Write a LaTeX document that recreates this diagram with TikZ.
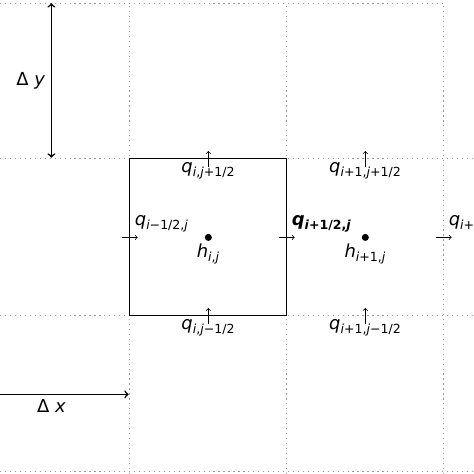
\documentclass[tikz,border=0pt]{standalone}
\usepackage{fontspec}
\setmainfont{DejaVu Sans}
\usetikzlibrary{calc}

\tikzset{
    gridline/.style={gray!80, line width=0.7pt, dash pattern=on 0.9pt off 2.7pt},
    flux/.style={->, line width=0.5pt},
    lab/.style={font=\fontsize{13}{15}\selectfont, inner sep=2pt}
}

\begin{document}
\begin{tikzpicture}
        \useasboundingbox (-3.31,-4.03) rectangle (8.77,8.05);

        % Grid of cells (dotted)
        \foreach \y in {0,4} {
            \draw[gridline] (-3.31,\y) -- (8.77,\y);
        }
        \draw[gridline] (-3.31,-3.97) -- (8.77,-3.97);
        \draw[gridline] (-3.31,7.97) -- (8,7.97);
        \foreach \x in {0,4,8} {
            \draw[gridline] (\x,-4.03) -- (\x,7.97);
        }

        % Control volume (i,j)
        \draw[line width=0.8pt] (0,0) rectangle (4,4);

        % Cell spacing
        \coordinate (dybot) at (-2,4.03);
        \coordinate (dytop) at (-2,7.97);
        \draw[<->, line width=1.1pt] (dybot) -- (dytop)
            node[midway, left, lab, inner sep=4pt] (dy) {Δ \textit{y}};
        \coordinate (dxl) at (-3.31,-2);
        \coordinate (dxr) at (-0.03,-2);
        \draw[->, line width=1.1pt] (dxl) -- (dxr);
        \node[below, lab] (dx) at (-2,-2.05) {Δ \textit{x}};

        % Cell centres
        \fill (2,2) circle (0.09) coordinate (cij);
        \fill (6,2) circle (0.09) coordinate (cipj);
        \node[below, lab] (hij) at (2,1.9) {\textit{h}\textsubscript{\textit{i},\textit{j}}};
        \node[below, lab] (hipj) at (6,1.9) {\textit{h}\textsubscript{\textit{i}+1,\textit{j}}};

        % Fluxes through vertical faces
        \foreach \x/\n in {0/w, 4/e, 8/ee} {
            \coordinate (\n a) at (\x-0.2,2);
            \coordinate (\n b) at (\x+0.2,2);
            \draw[flux] (\n a) -- (\n b);
        }
        \node[above right, lab] (qw) at (0.05,2.05)
            {\textit{q}\textsubscript{\textit{i}−1/2,\textit{j}}};
        \node[above right, lab] (qe) at (4.05,2.05)
            {\textbf{\textit{q}\textsubscript{\textit{i}+1/2,\textit{j}}}};
        \node[above right, lab] (qee) at (8.05,2.05)
            {\textit{q}\textsubscript{\textit{i}+1,\textit{j}}};

        % Fluxes through horizontal faces
        \foreach \x/\n in {2/n, 6/nn} {
            \coordinate (\n a) at (\x,3.8);
            \coordinate (\n b) at (\x,4.2);
            \draw[flux] (\n a) -- (\n b);
        }
        \foreach \x/\n in {2/s, 6/ss} {
            \coordinate (\n a) at (\x,-0.2);
            \coordinate (\n b) at (\x,0.2);
            \draw[flux] (\n a) -- (\n b);
        }
        \node[below, lab] (qn) at (2,3.98)
            {\textit{q}\textsubscript{\textit{i},\textit{j}+1/2}};
        \node[below, lab] (qnn) at (6,3.98)
            {\textit{q}\textsubscript{\textit{i}+1,\textit{j}+1/2}};
        \node[below, lab] (qs) at (2,-0.02)
            {\textit{q}\textsubscript{\textit{i},\textit{j}−1/2}};
        \node[below, lab] (qss) at (6,-0.02)
            {\textit{q}\textsubscript{\textit{i}+1,\textit{j}−1/2}};

\end{tikzpicture}
\end{document}
